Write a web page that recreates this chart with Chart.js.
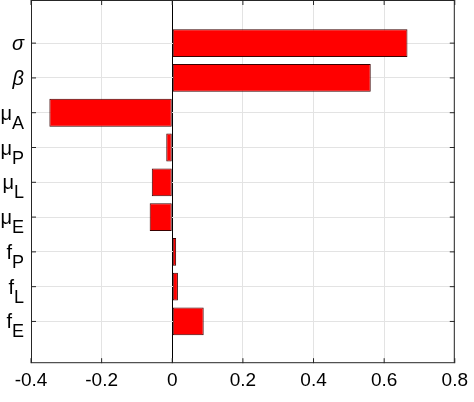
<!DOCTYPE html>
<html>
<head>
<script src="https://cdn.jsdelivr.net/npm/chart.js@4"></script>
<style>body{margin:0;background:#fff}#wrap{width:474px;height:402px}</style>
</head>
<body>
<div id="wrap"><canvas id="myChart"></canvas></div>
<script>
const names = [['σ', ''], ['β', ''], ['μ', 'A'], ['μ', 'P'], ['μ', 'L'], ['μ', 'E'], ['f', 'P'], ['f', 'L'], ['f', 'E']];
const values = [0.666, 0.562, -0.348, -0.017, -0.058, -0.064, 0.011, 0.016, 0.089];
const xTicks = [-0.4, -0.2, 0, 0.2, 0.4, 0.6, 0.8];

const frame = {
  id: 'frame',
  afterDraw(chart) {
    const { ctx, chartArea: a, scales } = chart;
    ctx.save();
    ctx.strokeStyle = '#262626';
    ctx.lineWidth = 1;
    ctx.strokeRect(a.left + 0.5, a.top + 0.5, a.right - a.left - 1, a.bottom - a.top - 1);
    ctx.beginPath();
    xTicks.forEach(v => {
      const x = scales.x.getPixelForValue(v);
      ctx.moveTo(x, a.bottom); ctx.lineTo(x, a.bottom - 5);
      ctx.moveTo(x, a.top); ctx.lineTo(x, a.top + 5);
    });
    names.forEach((n, i) => {
      const y = scales.y.getPixelForValue(i + 1);
      ctx.moveTo(a.left, y); ctx.lineTo(a.left + 5, y);
      ctx.moveTo(a.right, y); ctx.lineTo(a.right - 5, y);
    });
    ctx.stroke();
    ctx.fillStyle = '#000';
    ctx.textBaseline = 'alphabetic';
    names.forEach((n, i) => {
      const y = scales.y.getPixelForValue(i + 1);
      ctx.font = (i < 2 ? 'italic ' : '') + '20px "Liberation Sans", Arial';
      const w1 = ctx.measureText(n[0]).width;
      ctx.font = '18px "Liberation Sans", Arial';
      const w2 = ctx.measureText(n[1]).width;
      const x0 = a.left - 7 - w1 - w2;
      ctx.font = (i < 2 ? 'italic ' : '') + '20px "Liberation Sans", Arial';
      ctx.fillText(n[0], x0, y + 7);
      ctx.font = '18px "Liberation Sans", Arial';
      ctx.fillText(n[1], x0 + w1, y + 16);
    });
    ctx.restore();
  }
};

new Chart(document.getElementById('myChart'), {
  type: 'bar',
  data: {
    datasets: [{
      data: values.map((v, i) => ({ x: v, y: i + 1 })),
      backgroundColor: '#ff0000',
      borderColor: '#3a0000',
      borderWidth: 1,
      borderSkipped: false,
      barPercentage: 0.8,
      categoryPercentage: 1,
    }],
  },
  options: {
    indexAxis: 'y',
    responsive: true,
    maintainAspectRatio: false,
    animation: false,
    layout: { padding: { left: 31, right: 15, top: 0, bottom: 4 } },
    plugins: { legend: { display: false }, tooltip: { enabled: false } },
    scales: {
      x: {
        type: 'linear',
        min: -0.4, max: 0.8,
        afterBuildTicks: s => { s.ticks = xTicks.map(v => ({ value: v })); },
        ticks: { color: '#000', font: { size: 19, family: '"Liberation Sans", Arial' }, padding: 6,
          callback: v => (v === 0 ? '0' : String(Math.round(v * 10) / 10)) },
        grid: { color: c => (c.tick && c.tick.value === 0 ? '#000' : '#e3e3e3'), drawTicks: false },
        border: { display: false },
      },
      y: {
        type: 'linear',
        reverse: true,
        offset: false,
        min: -0.24, max: 10.2,
        afterBuildTicks: s => { s.ticks = names.map((n, i) => ({ value: i + 1 })); },
        afterFit: s => { s.width = 0; },
        ticks: { display: false },
        grid: { color: '#e3e3e3', drawTicks: false, offset: false },
        border: { display: false },
      },
    },
  },
  plugins: [frame],
});
</script>
</body>
</html>
